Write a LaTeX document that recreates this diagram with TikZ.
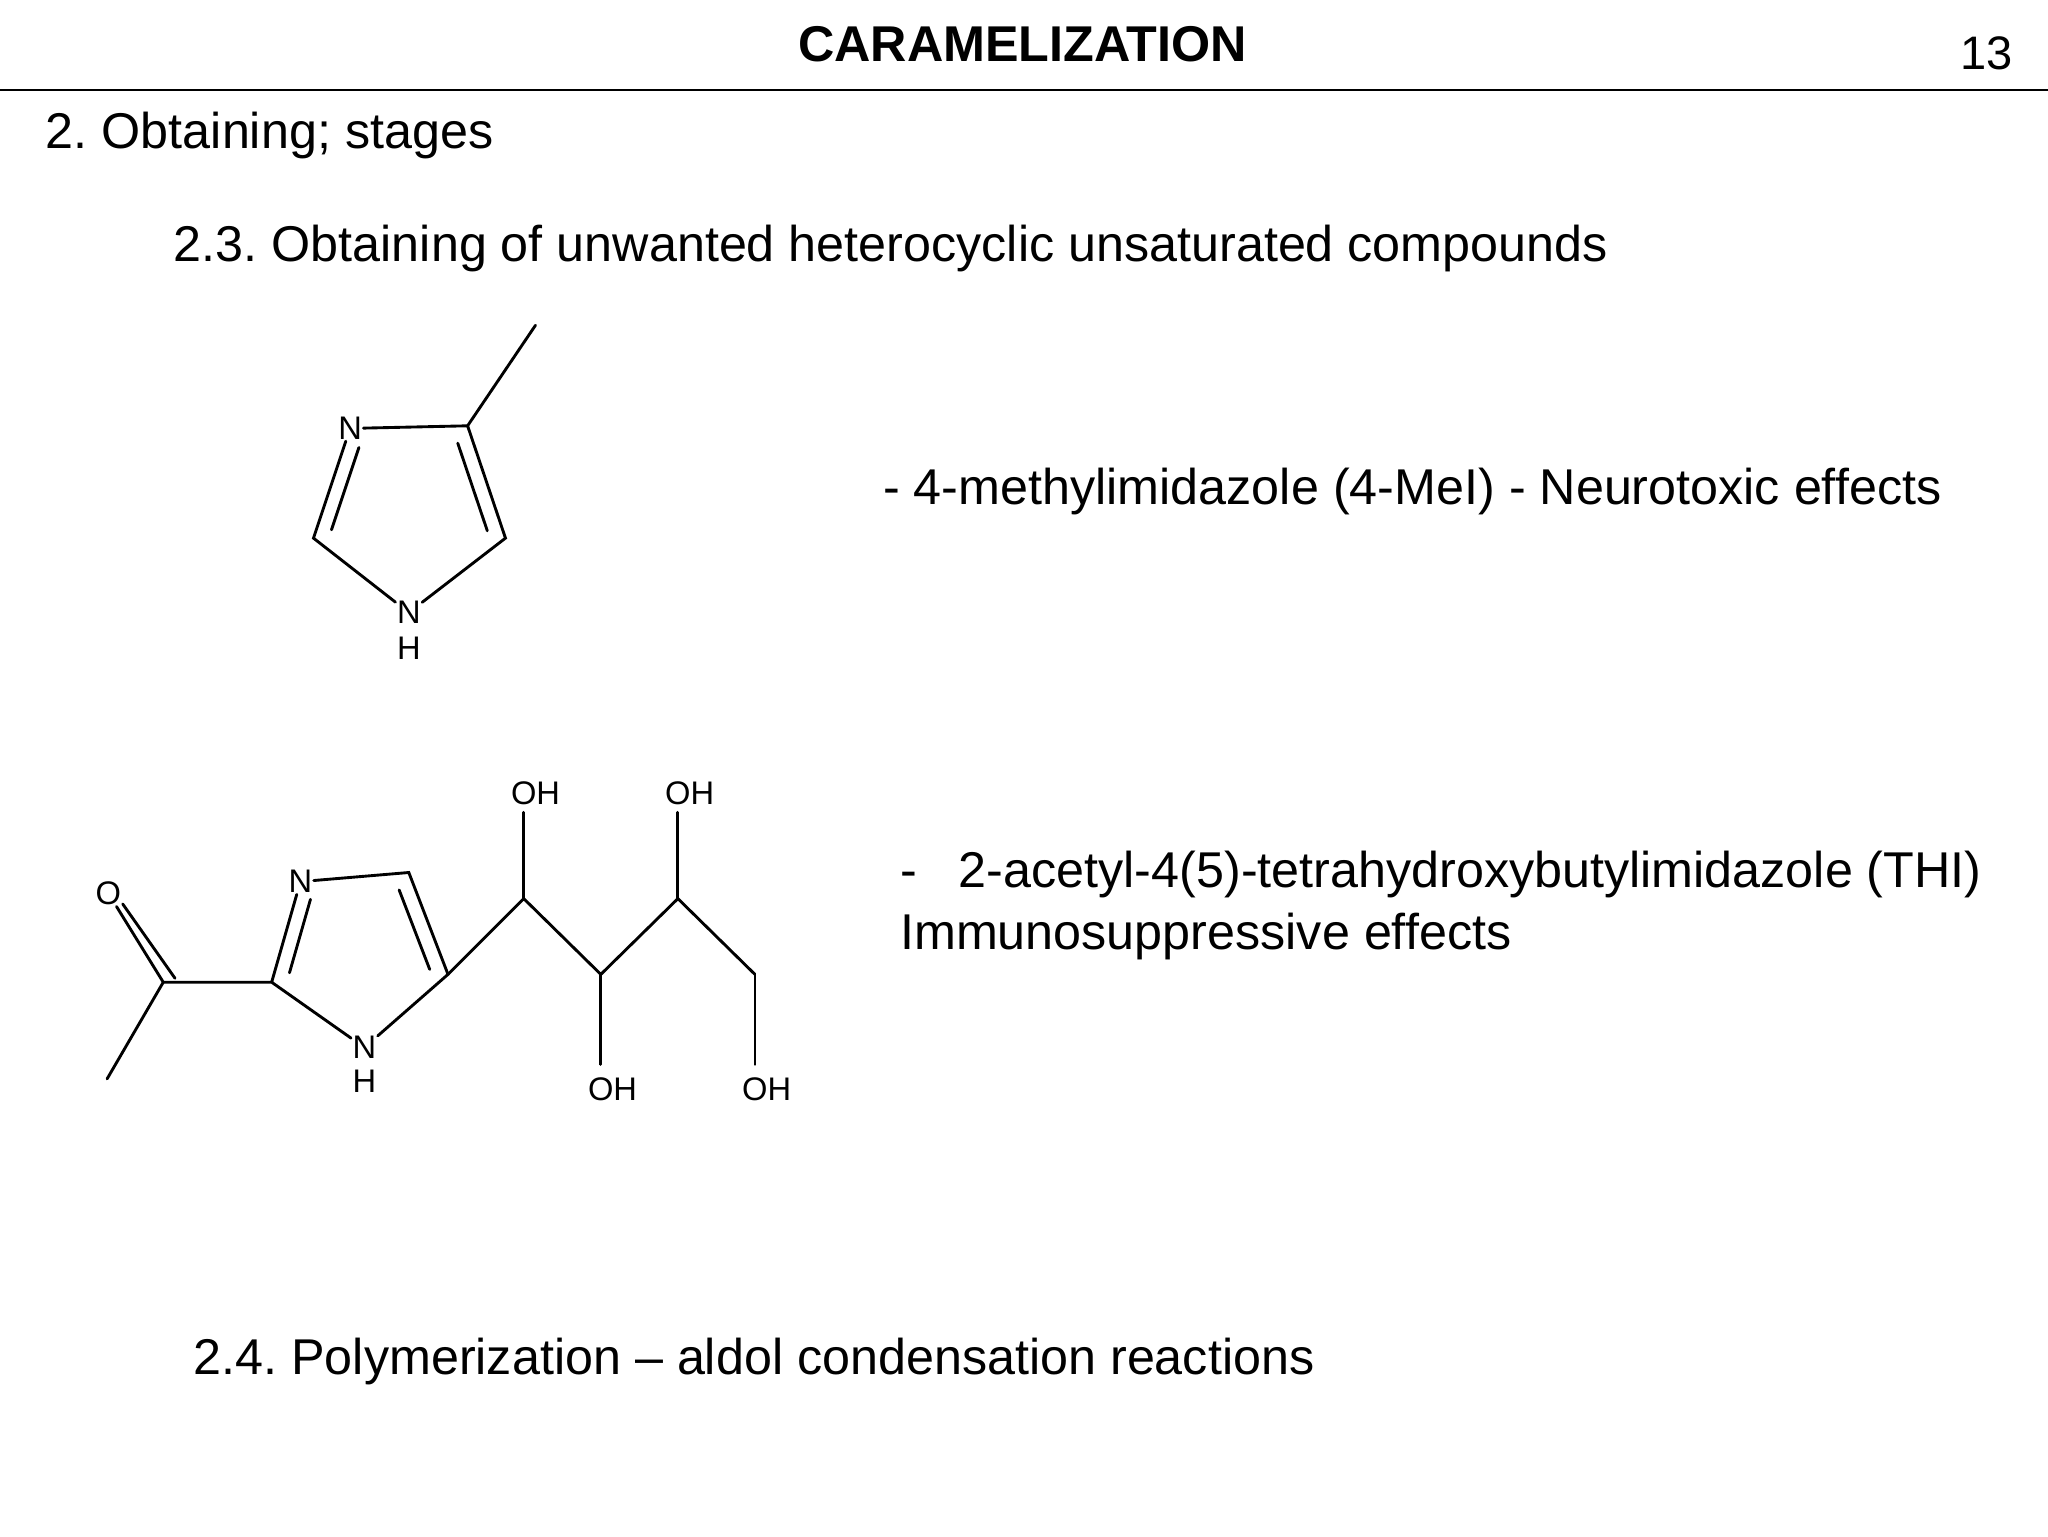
\documentclass[tikz,border=0pt]{standalone}
\usepackage{fontspec}
\setmainfont{Liberation Sans}
\usetikzlibrary{calc}
\frenchspacing
\begin{document}
\begin{tikzpicture}[x=1pt,y=-1pt,
  bd/.style={line width=2.2pt,line cap=round},
  atom/.style={inner sep=1pt,font=\fontsize{25}{25}\selectfont},
  txt/.style={anchor=west,inner sep=0pt,font=\fontsize{38.5}{48}\selectfont}]
\useasboundingbox (0,0) rectangle (1568,1176);
\node[font=\fontsize{38.5}{38}\selectfont\bfseries] (title) at (783,34) {CARAMELIZATION};
\node[font=\fontsize{36}{36}\selectfont] (pg) at (1521,41) {13};
\draw[line width=1.5pt] (0,69) -- (1568,69);
\node[txt] (t1) at (35,104) {2. Obtaining; stages};
\node[txt] (t2) at (133,190) {2.3. Obtaining of unwanted heterocyclic unsaturated compounds};
\node[txt] (t3) at (676,376) {- 4-methylimidazole (4-MeI) - Neurotoxic effects};
\node[txt,align=left,anchor=north west] (t4) at (689,651) {-\ \ \ 2-acetyl-4(5)-tetrahydroxybutylimidazole (THI)\\Immunosuppressive effects};
\node[txt] (t5) at (148,1042) {2.4. Polymerization -- aldol condensation reactions};
% molecule 1
\node[atom] (aN3) at (268,328) {N};
\node[atom] (aN1) at (313,469) {N};
\node[atom] (aH1) at (313,496) {H};
\coordinate (aC4) at (358,326);
\coordinate (aMe) at (410,249);
\coordinate (aC5) at (387,412);
\coordinate (aC2) at (240,412);
\draw[bd] (aN3) -- (aC4) -- (aMe);
\draw[bd] (aC4) -- (aC5) -- (aN1) -- (aC2) -- (aN3);
\draw[bd] ($(aC4)!0.12!(aC5)+(-11,3)$) -- ($(aC4)!0.9!(aC5)+(-11,3)$);
\draw[bd] ($(aC2)!0.1!(aN3)+(11,2)$) -- ($(aC2)!0.85!(aN3)+(11,2)$);
% molecule 2
\node[atom] (bO) at (83,684) {O};
\coordinate (bC) at (125,752);
\coordinate (bMe) at (82,826);
\coordinate (bC2) at (208,752);
\node[atom] (bN3) at (230,675) {N};
\coordinate (bC4) at (313,668);
\coordinate (bC5) at (343,746);
\node[atom] (bN1) at (279,802) {N};
\node[atom] (bH1) at (279,828) {H};
\coordinate (c1) at (401,688);
\coordinate (c2) at (460,746);
\coordinate (c3) at (519,688);
\coordinate (c4) at (578,746);
\node[atom] (o1) at (410,607) {OH};
\node[atom] (o2) at (469,834) {OH};
\node[atom] (o3) at (528,607) {OH};
\node[atom] (o4) at (587,834) {OH};
\draw[bd] (bO) -- (bC) -- (bMe);
\draw[bd] ($(bO.south east)+(0,-2)$) -- ($(bC)+(9,-3)$);
\draw[bd] (bC) -- (bC2) -- (bN3) -- (bC4) -- (bC5) -- (bN1) -- (bC2);
\draw[bd] ($(bC2)!0.12!(bN3)+(11,2)$) -- ($(bC2)!0.85!(bN3)+(11,2)$);
\draw[bd] ($(bC4)!0.12!(bC5)+(-11,4)$) -- ($(bC4)!0.9!(bC5)+(-11,4)$);
\draw[bd] (bC5) -- (c1) -- (c2) -- (c3) -- (c4);
\draw[bd] (c1) -- (401,622);
\draw[bd] (c2) -- (460,815);
\draw[bd] (c3) -- (519,622);
\draw[bd] (c4) -- (578,815);
\end{tikzpicture}
\end{document}
